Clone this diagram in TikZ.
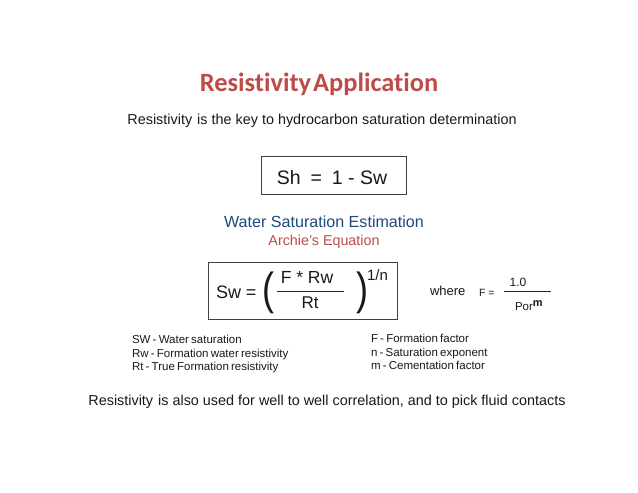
\documentclass[tikz,border=0pt]{standalone}
\usepackage{fontspec}
\setmainfont{Liberation Sans}
\newfontfamily\titlefont[Ligatures=NoCommon]{Carlito}
\definecolor{titlered}{HTML}{BE4B48}
\definecolor{subblue}{HTML}{1F497D}
\definecolor{boxgrey}{HTML}{404040}
\tikzset{
  txt/.style={inner sep=0pt,outer sep=0pt,anchor=base west,text=black!90,font=\fontsize{#1}{#1}\selectfont},
  ctxt/.style={inner sep=0pt,outer sep=0pt,anchor=base,text=black!90,font=\fontsize{#1}{#1}\selectfont},
  legend/.style={txt=11.5,execute at begin node={\spaceskip=2.2pt\relax}},
  eqbox/.style={draw=boxgrey,line width=0.9pt,fill=white},
  rule/.style={draw=black!85,line width=0.9pt}
}
\begin{document}
\begin{tikzpicture}[x=1pt,y=-1pt]
\useasboundingbox (0,0) rectangle (638,493);
\fill[white] (0,0) rectangle (638,493);
\node[ctxt=26.4,text=titlered] (title) at (319,91) {\titlefont\bfseries Resistivity\hspace{2pt}Application};
\node[ctxt=14.4] (intro) at (322,124) {Resistivity\hspace{1pt} is the key to hydrocarbon saturation determination};
\draw[eqbox] (261,156) rectangle (406,194);
\node[ctxt=19.5] (sh) at (332,184) {Sh\hspace{4.5pt} =\hspace{4.5pt} 1 - Sw};
\node[ctxt=16.1,text=subblue] (wse) at (324,227) {Water Saturation Estimation};
\node[ctxt=14.3,text=titlered] (arch) at (324,245) {Archie’s Equation};
\draw[eqbox] (208,262) rectangle (397,319);
\node[txt=18] (sw) at (216,298) {Sw =};
\node[ctxt=45,xscale=0.8] (lp) at (268,304) {(};
\node[ctxt=17.5] (num) at (307,283) {F * Rw};
\coordinate (fa) at (277,291);
\coordinate (fb) at (344,291);
\draw[rule] (fa) -- (fb);
\node[ctxt=17] (den) at (310,308) {Rt};
\node[ctxt=45,xscale=0.8] (rp) at (362,304) {)};
\node[txt=15] (exp) at (367,280) {1/n};
\node[txt=13] (where) at (430,295) {where};
\node[txt=10.5] (feq) at (479,296) {F =};
\node[ctxt=12] (one) at (518,286) {1.0};
\coordinate (ga) at (504,291);
\coordinate (gb) at (551,291);
\draw[rule] (ga) -- (gb);
\node[txt=11.5] (por) at (515,310) {Por\raisebox{4pt}{\fontsize{11}{11}\selectfont\bfseries m}};
\node[legend] (a1) at (132,343.5) {SW - Water saturation};
\node[legend] (a2) at (132,357) {Rw - Formation water resistivity};
\node[legend] (a3) at (132,370.5) {Rt - True Formation resistivity};
\node[legend] (b1) at (371,342) {F - Formation factor};
\node[legend] (b2) at (371,356) {n - Saturation exponent};
\node[legend] (b3) at (371,369.5) {m - Cementation factor};
\node[ctxt=14.4] (outro) at (327,405) {Resistivity\hspace{1pt} is also used for well to well correlation, and to pick fluid contacts};
\end{tikzpicture}
\end{document}
